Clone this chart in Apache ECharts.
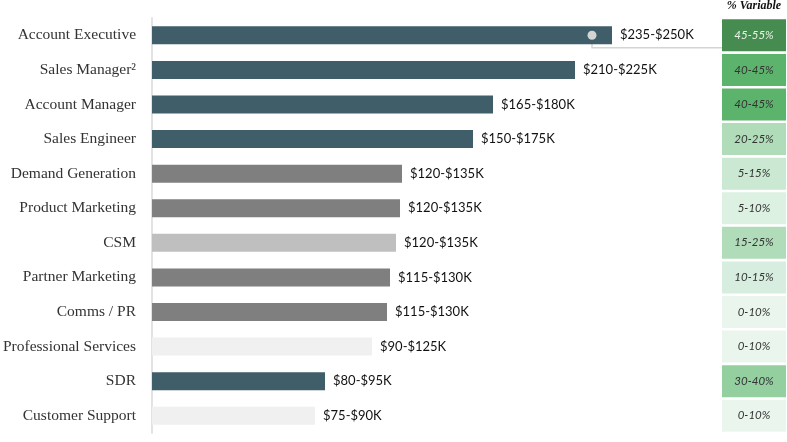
<!DOCTYPE html>
<html>
<head>
<meta charset="utf-8">
<script src="https://cdn.jsdelivr.net/npm/echarts@6/dist/echarts.min.js"></script>
<style>
html,body{margin:0;padding:0;background:#fff;}
#chart{width:787px;height:442px;}
</style>
</head>
<body>
<div id="chart"></div>
<script>
// ---- data ----
var categories = ['Account Executive','Sales Manager\u00B2','Account Manager','Sales Engineer','Demand Generation','Product Marketing','CSM','Partner Marketing','Comms / PR','Professional Services','SDR','Customer Support'];
var salaryLabels = ['$235-$250K','$210-$225K','$165-$180K','$150-$175K','$120-$135K','$120-$135K','$120-$135K','$115-$130K','$115-$130K','$90-$125K','$80-$95K','$75-$90K'];
var barValues = [230, 211.5, 170.5, 160.5, 125, 124, 122, 119, 117.5, 110, 86.5, 81.5];
var roleGroups = ['sales','sales','sales','sales','marketing','marketing','success','marketing','marketing','support','sales','support'];
var variableRanges = ['45-55%','40-45%','40-45%','20-25%','5-15%','5-10%','15-25%','10-15%','0-10%','0-10%','30-40%','0-10%'];
var variableLevels = [9, 8, 8, 5, 3, 2, 5, 4, 1, 1, 6, 1];
var annotationValue = 220;

// ---- styles ----
var groupColors = {sales:'#3f5e69', marketing:'#7f7f7f', success:'#bfbfbf', support:'#f0f0f0'};
var levelColors = {1:'#eaf6ed', 2:'#ddf1e2', 3:'#cbe9d2', 4:'#d6ede0', 5:'#b0dcb9', 6:'#93cf9f', 8:'#5cb46c', 9:'#468c50'};

var chart = echarts.init(document.getElementById('chart'));
var option = {
  animation: false,
  backgroundColor: '#ffffff',
  grid: [
    {left: 152, top: 18, bottom: 9, width: 570},
    {left: 722, top: 18, bottom: 9, width: 64}
  ],
  xAxis: [
    {gridIndex: 0, type: 'value', min: 0, max: 285, show: false},
    {gridIndex: 1, type: 'value', min: 0, max: 1, show: false}
  ],
  yAxis: [
    {gridIndex: 0, type: 'category', data: categories, inverse: true,
     axisLine: {show: true, lineStyle: {color: '#e3e3e3', width: 2}},
     axisTick: {show: false},
     axisLabel: {margin: 16, fontFamily: 'Liberation Serif', fontSize: 15.5, color: '#333333'}},
    {gridIndex: 1, type: 'category', data: categories, inverse: true, show: false}
  ],
  series: [
    {
      type: 'bar', xAxisIndex: 0, yAxisIndex: 0, barWidth: 18,
      data: barValues.map(function (v, i) {
        return {value: v, itemStyle: {color: groupColors[roleGroups[i]]}};
      }),
      label: {
        show: true, position: 'right', distance: 8,
        fontFamily: 'Lato', fontSize: 13, color: '#111111',
        formatter: function (p) { return salaryLabels[p.dataIndex]; }
      },
      markPoint: {
        symbol: 'circle', symbolSize: 9,
        itemStyle: {color: '#d4d4d4'},
        label: {show: false},
        data: [{coord: [annotationValue, categories[0]]}]
      }
    },
    {
      type: 'bar', xAxisIndex: 1, yAxisIndex: 1, barWidth: 32,
      data: variableLevels.map(function (lv) {
        return {value: 1, itemStyle: {color: levelColors[lv]}};
      }),
      label: {
        show: true, position: 'inside',
        fontFamily: 'Lato', fontStyle: 'italic', fontSize: 11.5,
        formatter: function (p) { return variableRanges[p.dataIndex]; },
        color: '#333333'
      }
    }
  ]
};
option.series[1].data[0].label = {color: '#e8f3e8'};
chart.setOption(option);

// annotation connector and header, positioned from the axes
var pt = chart.convertToPixel({gridIndex: 0}, [annotationValue, categories[0]]);
var cellLeft = chart.convertToPixel({gridIndex: 1}, [0, categories[0]]);
var cellMid = chart.convertToPixel({gridIndex: 1}, [0.5, categories[0]]);
chart.setOption({
  graphic: [
    {type: 'polyline', z: 1,
     shape: {points: [[pt[0], pt[1]], [pt[0], pt[1] + 12.5], [cellLeft[0], pt[1] + 12.5]]},
     style: {stroke: '#d4d4d4', lineWidth: 1.5, fill: null}},
    {type: 'text', x: cellMid[0], y: 0,
     style: {text: '% Variable', font: 'italic bold 12px "Liberation Serif"', fill: '#111111', textAlign: 'center', textVerticalAlign: 'top'}}
  ]
});
</script>
</body>
</html>
